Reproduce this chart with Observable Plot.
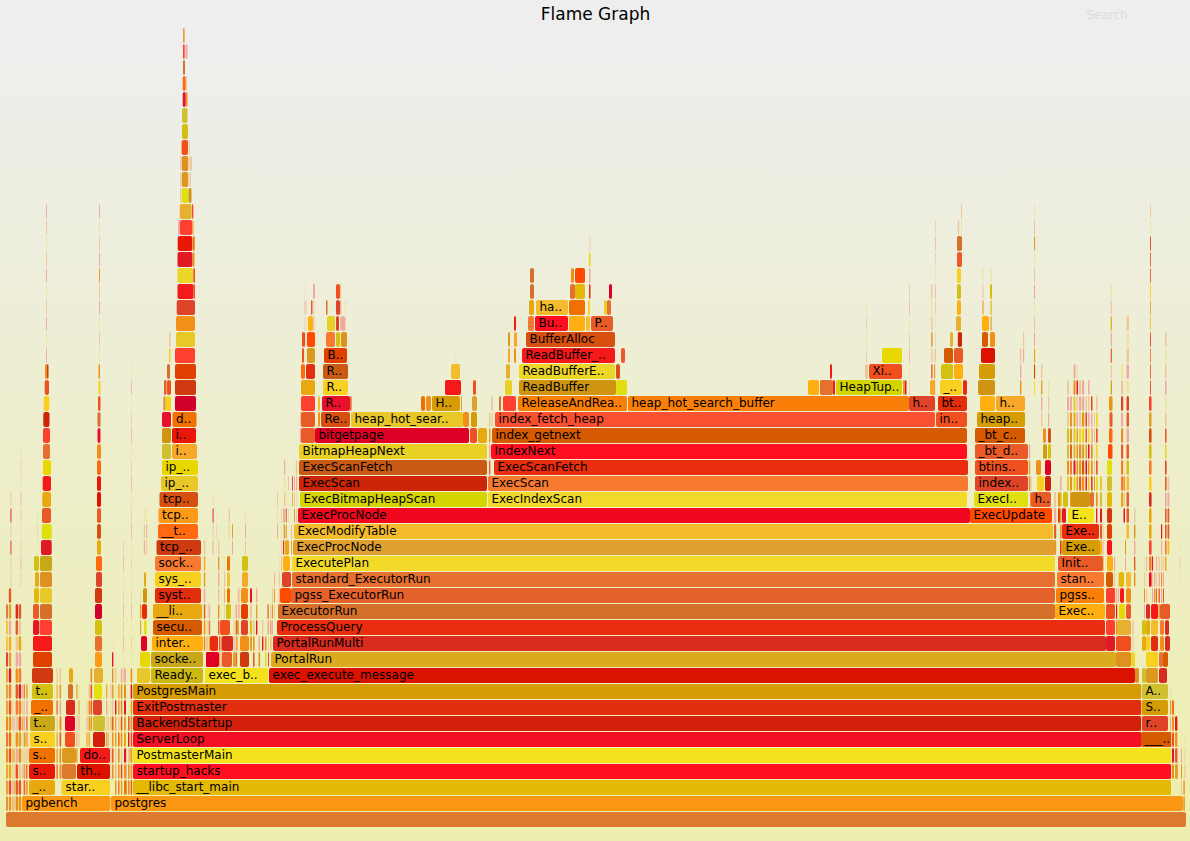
<!DOCTYPE html>
<html>
<head>
<meta charset="utf-8">
<style>html,body{margin:0;padding:0;background:#eeeeb0}svg{display:block}</style>
<script src="https://cdn.jsdelivr.net/npm/d3@7"></script>
<script src="https://cdn.jsdelivr.net/npm/@observablehq/plot@0.6"></script>
</head>
<body>
<script>
// Shade categories: one key per flame colour.
const shadeKeys = "abcdefghijklmnopqrstuvwxyzABCDEFGHIJKLMNOPQRSTUVWXYZ0123456789-+=".split("");
const shadeColors = [
"#ff0e20","#f31025","#f0081e","#de0025","#dc1200","#d2200d","#e22e0c","#e92d0e","#d92b20","#cc2508",
"#e04428","#f85030","#ff4030","#f41a1a","#e81808","#e01a25","#d0002a","#e8102a","#f05020","#ff4a00",
"#e04000","#d03a10","#d85010","#c95a15","#d65a00","#e85a28","#e5622c","#e6702f","#d4702a","#dd7a2e",
"#f87a30","#ff6a10","#f07000","#fa7f08","#ff9a18","#fb9713","#f09018","#e09020","#dd9820","#dcaa1e",
"#d59c05","#d09510","#e0a030","#f8a828","#f4bc2c","#e8b030","#e4b905","#e8a810","#c8a818","#d0c030",
"#ccb810","#d4d400","#e0e010","#e8d800","#f4da28","#f4e31c","#e8d025","#ecd628","#f8d020","#e8c828",
"#d4c010","#ffb010","#ecc79a","#f0a8a0","#ece4a0"];

// Named frames: [depth, first sample, last sample, shade, label]
const rootFrames = [
[0,6,1186,"D",""],[1,22,110.5,"J","pgbench"],[1,111,1183,"J","postgres"],
[2,133,1171,"U","__libc_start_main"],[3,133,1171,"a","startup_hacks"],[4,133,1171,"3","PostmasterMain"],
[5,133,1141,"b","ServerLoop"],[5,1141,1171,"y","___.."],[6,133,1141,"f","BackendStartup"],[6,1142,1168,"k","r.."],
[7,133,1141,"g","ExitPostmaster"],[7,1142,1168,"O","S.."],[8,133,1141,"O","PostgresMain"],[8,1142,1168,"X","A.."],
[9,269,1135,"e","exec_execute_message"],[10,271,1116,"N","PortalRun"],[11,273,1106,"i","PortalRunMulti"],
[12,277,1105,"h","ProcessQuery"],[13,278,1055,"C","ExecutorRun"],[13,1055,1105,"9","Exec.."],
[14,291,1055,"A","pgss_ExecutorRun"],[14,1056,1104,"H","pgss.."],[15,292,1055,"B","standard_ExecutorRun"],[15,1057,1104,"E","stan.."],
[16,292,1055,"2","ExecutePlan"],[16,1058,1103,"z","Init.."],[17,293,1055,"Q","ExecProcNode"],[17,1062,1100,"O","Exe.."],
[18,294,1053,"S","ExecModifyTable"],[18,1062,1099,"h","Exe.."],[19,298,970,"c","ExecProcNode"],[19,970,1052,"t","ExecUpdate"],[19,1068,1094,"3","E.."]
];
const scanFrames = [
[20,300,487,"Z","ExecBitmapHeapScan"],[20,488,967,"2","ExecIndexScan"],[20,974,1028,"0","ExecI.."],[20,1031,1051,"z","h.."],
[21,299,487,"j","ExecScan"],[21,488,968,"E","ExecScan"],[21,975,1028,"k","index.."],
[22,299,487,"x","ExecScanFetch"],[22,494,968,"h","ExecScanFetch"],[22,975,1028,"s","btins.."],
[23,299,487,"4","BitmapHeapNext"],[23,491,967,"a","IndexNext"],[23,975,1028,"z","_bt_d.."],
[24,315,469,"d","bitgetpage"],[24,492,967,"y","index_getnext"],[24,975,1025,"y","_bt_c.."],
[25,321,350,"w","Re.."],[25,351,463,"7","heap_hot_sear.."],[25,495,935,"l","index_fetch_heap"],[25,936,967,"s","in.."],[25,977,1025,"O","heap.."],
[26,322,350,"r","R.."],[26,432,460,"O","H.."],[26,518,627,"H","ReleaseAndRea.."],[26,628,909,"H","heap_hot_search_buffer"],[26,909,935,"k","h.."],[26,938,967,"g","bt.."],[26,996,1025,"R","h.."],
[27,323,348,"6","R.."],[27,519,616,"P","ReadBuffer"],[27,836,902,"Z","HeapTup.."],[27,940,962,"6","_.."],
[28,323,348,"x","R.."],[28,519,615,"5","ReadBufferE.."],[28,869,902,"s","Xi.."],
[29,324,347,"u","B.."],[29,522,615,"n","ReadBuffer_.."],[30,526,615,"w","BufferAlloc"],
[31,535,568,"a","Bu.."],[31,591,613,"z","P.."],[32,536,568,"S","ha.."]
];
const clientFrames = [
[2,29,55,"V","_.."],[2,62,110,"6","star.."],[3,29,55,"o","s.."],[3,62,76,"D",""],[3,77,110,"e","th.."],
[4,29,55,"G","s.."],[4,62,76,"M",""],[4,80,110,"n","do.."],[5,30,55,"6","s.."],[5,65,75,"s",""],[5,93,105,"f",""],
[6,30,55,"W","t.."],[6,65,75,"d",""],[6,93,105,"X",""],[7,31,53,"G","_.."],[7,66,75,"i",""],[7,93,102,"k",""],
[8,32,53,"8","t.."],[8,68,73,"C",""],[8,94,102,"0",""],[9,32,53,"v",""],[9,69,73,"V",""],[9,94,103,"T",""],
[10,33,52,"u",""],[10,95,102,"I",""],[11,33,52,"n",""],[11,95,102,"B",""],[12,33,39,"p",""],[12,39.5,52,"m",""],[12,95,102,"8",""],
[13,33,39,"z",""],[13,40,52,"C",""],[13,95,102,"q",""],[14,34,39,"U",""],[14,40,52,"7",""],[14,95,102,"v",""],
[15,35,39,"V",""],[15,40,52,"L",""],[15,96,102,"k",""],[16,34,39,"8",""],[16,40,52,"W",""],[16,96,102,"F",""],
[17,41,51.7,"p",""],[17,97,101,"V",""],[18,41.7,51.7,"0",""],[18,97,101,"w",""],[19,42,51,"z",""],[19,97,101,"z",""],
[20,42.3,51,"V",""],[20,97,101,"e",""],[21,42.7,51,"n",""],[21,97,101,"o",""],[22,43,51,"1",""],[22,97,101,"F",""],
[23,43,50,"B",""],[23,97,101,"K",""],[24,43,50,"m",""],[24,97.5,100.5,"r",""],[25,43.3,49.5,"j",""],[25,97.5,100.5,"C",""],
[26,43.7,49.3,"6",""],[26,98,100.5,"s",""],[27,44.7,49,"s",""],[27,98.5,100.5,"6",""],[28,45,47,"K",""],[28,47,48.5,"v",""],[28,98.5,100,"K",""]
];
const socketFrames = [
[9,137,150,"7",""],[9,151,203,"Y","Ready.."],[9,205,268,"3","exec_b.."],[10,140,150,"1",""],[10,151,203,"W","socke.."],
[11,141,147,"d",""],[11,152,203,"9","inter.."],[12,144,146.5,"0",""],[12,153,202,"y","secu.."],[13,142,147,"g",""],[13,153,202,"V","__li.."],
[14,143,147,"P",""],[14,155,201,"g","syst.."],[15,144,146,"V",""],[15,155,201,"6","sys_.."],[16,155,201,"E","sock.."],[17,156.5,201,"v","tcp_.."],
[18,158,198,"F","__t.."],[19,158.5,198,"I","tcp.."],[20,159.5,198,"w","tcp.."],[21,161,198,"7","ip_.."],[22,162,198,"1","ip_.."],
[23,162,171,"X",""],[23,172,197,"R","i.."],[24,162,171,"P",""],[24,172,196,"o","i.."],[25,162,171,"r",""],[25,172.5,196.5,"G","d.."],
[26,163.3,165.7,"Q",""],[26,166,171,"6",""],[26,175,196,"q",""],[27,164,166.5,"z",""],[27,167,171,"s",""],[27,175,196,"v",""],
[28,167,170,"C",""],[28,175,196,"u",""],[29,169,170.5,"6",""],[29,175,195,"m",""],[30,169,170.5,"-",""],[30,176,195,"7",""],
[31,176,195,"K",""],[32,176.7,195,"k",""],[33,177.5,193.5,"n",""],[33,193.5,195,"s",""],[34,177.5,193.3,"5",""],[34,193.3,195,"s",""],
[35,177.5,192.5,"p",""],[35,192.7,194.5,"K",""],[36,177.7,192.3,"o",""],[36,192.7,194.7,"G",""],[37,178,180,"+",""],[37,180,192.3,"m",""],[37,192.5,193.5,"K",""],
[38,179.7,191.7,"T",""],[38,192,193.3,"m",""],[39,180,181.3,"-",""],[39,181.7,188.3,"0",""],[39,188.5,191.5,"P",""],
[40,180.3,181.3,"-",""],[40,181.7,188.3,"M",""],[40,189.5,191,"-",""],[41,180.3,181.3,"-",""],[41,181.7,188.3,"L",""],[41,189.5,192,"-",""],
[42,181,182,"=",""],[42,181.7,188,"s",""],[42,189,190,"-",""],[43,182,188,"8",""],[44,182,187.5,"X",""],
[45,182.7,185.7,"r",""],[45,186,187.5,"K",""],[46,182.7,185.7,"F",""],[46,186,187,"-",""],[47,183,185,"C",""],[48,183,184.7,"m",""],[48,185.5,187.5,"+",""],[49,183,184.7,"Q",""]
];
const bufferFrames = [
[10,206,219,"d",""],[10,222,232,"z",""],[10,233,236,"Q",""],[10,240,249,"v",""],[11,210,218,"h",""],[11,222,233,"i",""],[11,240,249,"K",""],
[12,220,230,"s",""],[12,241,248,"k",""],[13,226,231,"8",""],[13,241,248,"u",""],[14,227,230,"G",""],[14,241,248,"K",""],
[15,227,230,"7",""],[15,242,248,"R",""],[16,227,230,"G",""],[16,242,248,"8",""],
[13,280,291,"U",""],[14,280,291,"t",""],[15,282,291,"k",""],[16,283,290,"9",""],[17,285,289,"V",""],
[24,301,315,"z",""],[24,470,477,"s",""],[24,478,487,"V",""],[25,301,315,"z",""],[25,318,320,"K",""],[25,463,469,"K",""],[25,471,477,"O",""],
[26,301,315,"m",""],[26,318,320,"S",""],[26,350.3,351.5,"u",""],[26,421,425,"G",""],[26,426,431,"K",""],[26,461,462,"Q",""],[26,472,477,"Q",""],
[27,301,315,"V",""],[27,445,461,"n",""],[27,473,476,"s",""],[27,505,512,"4",""],[27,616,627,"0",""],
[28,301,305,"F",""],[28,306,315,"g",""],[28,451,460,"S",""],[28,506,510,"T",""],[28,616,620,"w",""],
[29,302,304,"s",""],[29,307,315,"M",""],[29,508,510,"R",""],[29,514,516,"K",""],[29,621,625,"z",""],
[30,302,305,"s",""],[30,307,315,"t",""],[30,326,335,"E",""],[30,336,340,"8",""],[30,341,347,"L",""],[30,508,510,"M",""],[30,514,517,"R",""],
[31,308,313,"9",""],[31,327,335,"4",""],[31,336,339,"k",""],[31,341,345,"+",""],[31,528,534,"E",""],[31,569,585,"9",""],[31,586,590,"S",""],[31,514,516,"n",""],
[32,311,312.5,"z",""],[32,326,327.5,"C",""],[32,336,340,"k",""],[32,529,534,"V",""],[32,569,585,"G",""],[32,588,590,"6",""],[32,604,607,"4",""],[32,607,611,"B",""],
[33,313,315,"+",""],[33,336,340,"s",""],[33,530,534,"C",""],[33,570,575,"B",""],[33,575,585,"U",""],[33,589,590.5,"g",""],[33,609,612,"d",""],
[34,530,534,"C",""],[34,571,574,"K",""],[34,575,585,"t",""],[34,589,590.5,"+",""],[35,589,590.5,"1",""],
[26,499,501,"C",""],[26,503,516,"m",""],[27,808,819,"9",""],[27,820,833,"B",""],[27,833,835,"n",""],
[28,830,832,"n",""],[28,865,868,"-",""],[29,882,902,"1",""],[27,903,905,"K",""],[27,905,906.5,"p",""],[27,930,935,"R",""],
[27,963,967,"g",""],[27,978,995,"P",""],[26,980,995,"9",""],[28,941,953,"8",""],[28,954,963,"9",""],[28,979,995,"O",""],
[29,944,953,"y",""],[29,954,963,"z",""],[29,981,995,"e",""],[30,950,953,"T",""],[30,958,962,"j",""],[30,982,988,"y",""],[30,990,995,"K",""],
[31,982,989,"9",""],[31,956,961,"T",""],[32,957,961,"9",""],[33,957,961,"8",""],[33,990,992,"8",""],[34,957,961,"6",""],[35,957,962,"z",""],[36,957,962,"C",""],
[20,1071,1090,"P",""],[20,1090,1094,"B",""],[19,1058,1060,"u",""],[19,1062,1066,"p",""],[20,1058,1060,"K",""],[20,1063,1068,"8",""],
[21,1037,1044,"6",""],[21,1045,1051,"j",""],[22,1045,1051,"d",""],[22,1036,1041,"K",""],[23,1048,1051,"8",""],[23,1043,1047,"O",""],[24,1048,1051,"w",""],[24,1043,1046,"K",""],
[15,1106,1113,"y",""],[16,1107,1113,"9",""],[17,1107,1112,"a",""],[18,1107,1112,"u",""],[19,1107,1112,"v",""],[20,1107,1112,"U",""],[21,1107,1112,"X",""],[22,1107,1112,"0",""],[23,1108,1112.5,"t",""],[24,1109,1112.5,"F",""],[25,1109.5,1112.5,"z",""],[26,1109,1112.5,"K",""],
[9,1135,1139,"L",""],[9,1142,1146,"X",""],[9,1146,1158,"M",""],[9,1159,1167,"i",""],[10,1116,1131,"L",""],[10,1131,1135,"5",""],[10,1146,1158,"6",""],[10,1159,1163,"B",""],[10,1163,1168,"y",""],
[11,1106,1115,"p",""],[11,1116,1131,"s",""],[11,1142,1146,"V",""],[11,1146,1150,"6",""],[11,1151,1158,"g",""],[11,1160,1164,"K",""],[11,1165,1170,"i",""],
[12,1106,1115,"m",""],[12,1117,1131,"T",""],[12,1142,1146,"8",""],[12,1146,1150,"V",""],[12,1151,1158,"S",""],[12,1160,1164,"E",""],[12,1165,1169,"i",""],
[13,1106,1115,"s",""],[13,1119,1125,"1",""],[13,1126,1131,"z",""],[13,1146,1150,"i",""],[13,1151,1158,"n",""],[13,1160,1170,"z",""],
[14,1106,1115,"m",""],[14,1120,1124,"n",""],[14,1126,1131,"K",""],[15,1119,1124,"U",""],[15,1126,1131,"S",""]
];

// Thin stacks: [first sample, samples wide, bottom depth, shade of each frame upward]
const towerStarts = [
6.2,8.8,10.5,15.6,18.6,20.6,23.6,26.2,56.5,59.5,
36.8,37.2,46,99,112,115,118,120.8,124,128,
131,130.6,123,143.8,140,146.2,148.2,203.8,206,212.6,
216,218,221,224,228.8,232,235.5,237.8,245,250,
253,256,258.5,262,265,267.5,275,277,284,285.8,
288,294,296,300,304.6,305.6,313.5,340,344.6,340.2,
455.2,489,491.5,589.6,909,935,931.2,934,961,957.7,
982.5,1020,1023,1028.8,1030,1034,1041,1048,1054,1060,
1067,1070,1073.5,1076.5,1079,1082,1085.5,1088,1091,1094,
1091,1096,1100,1110.7,1121,1123.5,1126.5,1149,1150,1165,
1167.5,1179.7,1172,1175,1134,1137.5,1139.8,1142,1183.4,
12.4,13.8,22.3,24.8,27.5,61,76.3,78.5,86.5,88.5,
90.5,106,108,110.6,113,126,129.5,207.8,209.2,219.3,
233.5,236.3,238.7,268,270.5,272,274,278.8,281,283,
291,292,1097,1102.5,1114,1116,1118,1125,1132.5,1144,
1146.2,1152,1154,1156,1158.5,1161,1163,1170,1177,1181,
1184.5,866,990.5];
const towerWidths = [
1.6,2.4,0.9,2.4,2.6,0.8,1.4,1.5,1.2,1.6,
2,0.6,0.9,0.9,1.5,1.4,1.6,1.5,2,1.6,
0.7,1.6,0.7,1.2,1.2,1,1,1.5,2,1,
0.6,1.4,2,0.7,0.8,1,1.6,1,1,2,
1.6,1.4,1.6,1.4,1.5,1.5,1.5,1,1.2,1,
0.6,1,1.2,1.6,0.7,0.9,0.9,0.8,1,1.2,
0.6,1.4,1.2,0.8,0.7,0.7,1.4,1.1,1,1.5,
1,1.4,1.2,1.4,1.6,1.1,1.4,1.2,2.2,1.6,
2,2,2,1.5,2.2,2.2,1.5,1.5,1.5,1,
1.4,1.7,2,1.2,2.2,1.5,2.5,2.6,0.9,1.6,
1.8,0.7,2,2.4,1.4,1.4,1.6,1.2,1.4,
1,0.8,0.9,0.9,0.8,0.8,1.2,1,1,1.6,
1.6,1.4,1,0.8,0.8,1,0.8,0.8,1,1,
0.9,1.4,1,0.8,0.8,1,0.9,1,0.8,0.9,
0.8,0.8,1,1,1.2,1.2,1,1,1,1,
1,1.1,1.4,1,1.4,1.2,1,1.2,0.9,1,
0.7,0.7,1.2];
const towerBases = [
1,1,15,1,1,15,1,1,3,3,
3,17,29,29,3,2,1,2,2,1,
8,2,9,17,12,17,2,11,9,17,
17,12,2,13,18,17,10,12,17,11,
10,12,10,11,10,12,9,18,17,18,
19,19,19,21,29,31,31,31,31,30,
27,22,25,36,27,28,28,27,37,30,
32,27,29,21,17,27,25,25,17,17,
21,20,21,21,21,21,21,21,20,21,
20,19,17,27,20,19,18,15,27,16,
17,15,3,3,15,3,5,5,1,
1,1,3,1,3,2,4,5,5,5,
6,5,5,3,9,1,3,11,11,10,
11,11,13,10,11,12,13,14,16,17,
17,20,17,16,14,12,14,16,11,13,
14,14,14,14,13,14,14,3,3,2,
3,29,30];
const towerShades = [
"DLKGsGKLKrSSz","KmVsGKsEpQR+Qz","--i-p-","Lzs+K-EzK+-zi","Kz-LQsEpE+V-z","-+-=-+=-=",
"LsK-Q+-E","=Ks-Rz+Q","sKQ-zR-","KLzK+Q-","F1oK-","=-=",
"+=+-=+-=-+","=-=+-K+-=+","LsKz-QLr","K+-QRr=-","rEKLF-QR","Qk-KsEL+","GKrVQpL+","dLK-rz",
"-+=-=+-=-=+-=+-=+-=+=","zQKsLVrK","-=+-+-=+-","+-=","VK=","-+=","-Q=-+-",
"LKz+QR-","Rr-=","+-i=","=-=","zK-+Q-","Kd+Lr-=+-Kz","-Q+=","-+","+Q","F+K+","Q-+",
"-+=","Q8-r","zK-","rQ+","L+","p-","0K","+z","LK-","+=-","-Q+-=+","Qz=",
"-=+","Q-+=","-=+-","=-=+-","=+-+=","=-","+-","+-=","-=","=-+-",
"-+=","z+Q-","-+","-","-=+-=+-","=+-=-+=-+-","z-L-=-","zQ=","=-","Qz+V-=+-",
"K-=","K+-","+-","KQ+","rQLK-","3uV+-=+-=Q-=",
"-+Q-","+-=","Kz+-","uKQ8+",
"7KX8-+-","QLEzLK+","1pT7V7K+","KLKQ+-r=","zKL5-+-","KyQ6K++","pdKzk-","7Kr5+-+","KzLQz+k","K-=--",
"EkKL-","nK0z5z6-","9zpX7","O-z+V-=","VEEzL+k-=","r-K=","SzzS8z+zk=+-=-","cEmVVi6E8wQm","kzEk7Q5zzk=-","REzz+zk5z-=+-=-",
"Szz+-","=-=","LrsKF","QzKp","Kz+L-","-+z","pQK+","z+Q","LK",
"Q+-K=+-","+K-Q=+","+-=K-+","-+-=Q","=-+-","-+=-+","K+-=Q","-+Q=","K+-","RQK-",
"KzsL","Q-+R","+-=","-+=K-+","-+=","LK+-","+Q-+","-+-","Kz+","Kr+",
"+-=","Rz","+-","p-+Q","Qz+","+K-","-K+","+-=","+-=-","p-+",
"K+","Qp","zK+","K+-","R-+","Kp+","+-","+K","-+","+K-=",
"-=+","+-p","K+","z-+","Kz+-","+K-+p","z+-","K-r+Q=","Q+-","-K+",
"+-=","-=-=","KQ8-="];

const asFrame = ([depth, start, end, shade, label]) => ({depth, start, end, shade, label});
const towerFrames = towerStarts.flatMap((start, t) =>
  [...towerShades[t]].map((shade, i) => ({
    depth: towerBases[t] + i, start, end: start + towerWidths[t], shade, label: ""
  })));
const frames = [...towerFrames, ...[...bufferFrames, ...clientFrames, ...socketFrames, ...scanFrames, ...rootFrames].map(asFrame)];
const titleText = ["Flame Graph"];
const searchText = ["Search"];

const fontFamily = "'DejaVu Sans', Verdana, sans-serif";
document.body.append(Plot.plot({
  width: 1190,
  height: 841,
  margin: 0,
  x: {domain: [0, 1190], range: [0, 1190], axis: null},
  y: {domain: [0, 50], range: [827, 27], axis: null},
  color: {type: "ordinal", domain: shadeKeys, range: shadeColors},
  style: {background: "linear-gradient(to bottom, #eeeeee 5%, #eeeeb0 95%)", fontFamily},
  marks: [
    Plot.rect(frames, {x1: "start", x2: "end", y1: "depth", y2: d => d.depth + 1, fill: "shade", rx: 2, insetTop: 1}),
    Plot.text(frames.filter(d => d.label), {x: "start", y: d => d.depth + 0.5, text: "label", dx: 3, dy: -0.5, textAnchor: "start", lineAnchor: "middle", fontSize: 12, fill: "#000"}),
    Plot.text(titleText, {frameAnchor: "top", dy: 7, dx: 0, lineAnchor: "top", fontSize: 17, fill: "#000"}),
    Plot.text(searchText, {frameAnchor: "top-right", dx: -63, dy: 10, lineAnchor: "top", fontSize: 12, fill: "#dcdcdc"})
  ]
}));
</script>
</body>
</html>
